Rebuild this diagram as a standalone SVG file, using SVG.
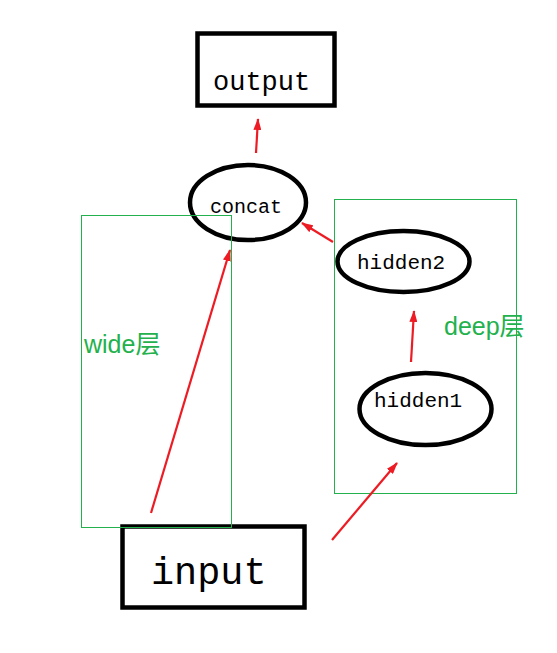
<svg xmlns="http://www.w3.org/2000/svg" width="557" height="653" viewBox="0 0 557 653">
<defs>
<style>
.box{fill:none;stroke:#000;stroke-width:4.5}
.ell{fill:#fff;stroke:#000;stroke-width:4.5}
.grp{fill:none;stroke:#22b14c;stroke-width:1}
.lbl{font-family:"Liberation Mono","DejaVu Sans Mono",monospace;fill:#000}
.grn{font-family:"Liberation Sans","Noto Sans CJK SC",sans-serif;fill:#22b14c;font-size:25px}
.arr{stroke:#ed1c24;stroke-width:2.2;fill:none;marker-end:url(#ah)}
</style>
<marker id="ah" viewBox="0 0 12 8" refX="11" refY="4" markerWidth="12" markerHeight="8" markerUnits="userSpaceOnUse" orient="auto">
<path d="M0,0 L12,4 L0,8 Z" fill="#ed1c24"/>
</marker>
</defs>
<rect width="557" height="653" fill="#fff"/>
<g id="output">
<rect class="box" x="197.5" y="33.5" width="137" height="72"/>
<text class="lbl" x="213" y="90" font-size="27">output</text>
</g>
<g id="concat">
<ellipse class="ell" cx="248" cy="202.5" rx="58" ry="37.5"/>
<text class="lbl" x="210" y="213" font-size="20">concat</text>
</g>
<g id="hidden2">
<ellipse class="ell" cx="403.5" cy="261.5" rx="66" ry="30.5"/>
<text class="lbl" x="357" y="269" font-size="21">hidden2</text>
</g>
<g id="hidden1">
<ellipse class="ell" cx="425.5" cy="409" rx="66" ry="36"/>
<text class="lbl" x="374" y="407" font-size="21">hidden1</text>
</g>
<g id="input">
<rect class="box" x="122.5" y="526.5" width="182" height="81"/>
<text class="lbl" x="151" y="584" font-size="38.5">input</text>
</g>
<g id="wide-group">
<rect class="grp" x="81.5" y="215.5" width="150" height="312"/>
<text class="grn" x="84" y="353">wide层</text>
</g>
<g id="deep-group">
<rect class="grp" x="334.5" y="199.5" width="182" height="294"/>
<text class="grn" x="444" y="335">deep层</text>
</g>
<g id="connectors">
<path class="arr" d="M256,153 L258,119"/>
<path class="arr" d="M151,513 L230,250"/>
<path class="arr" d="M333,242 L302,223"/>
<path class="arr" d="M411,362 L414,311"/>
<path class="arr" d="M332,540 L397,463"/>
</g>
</svg>
